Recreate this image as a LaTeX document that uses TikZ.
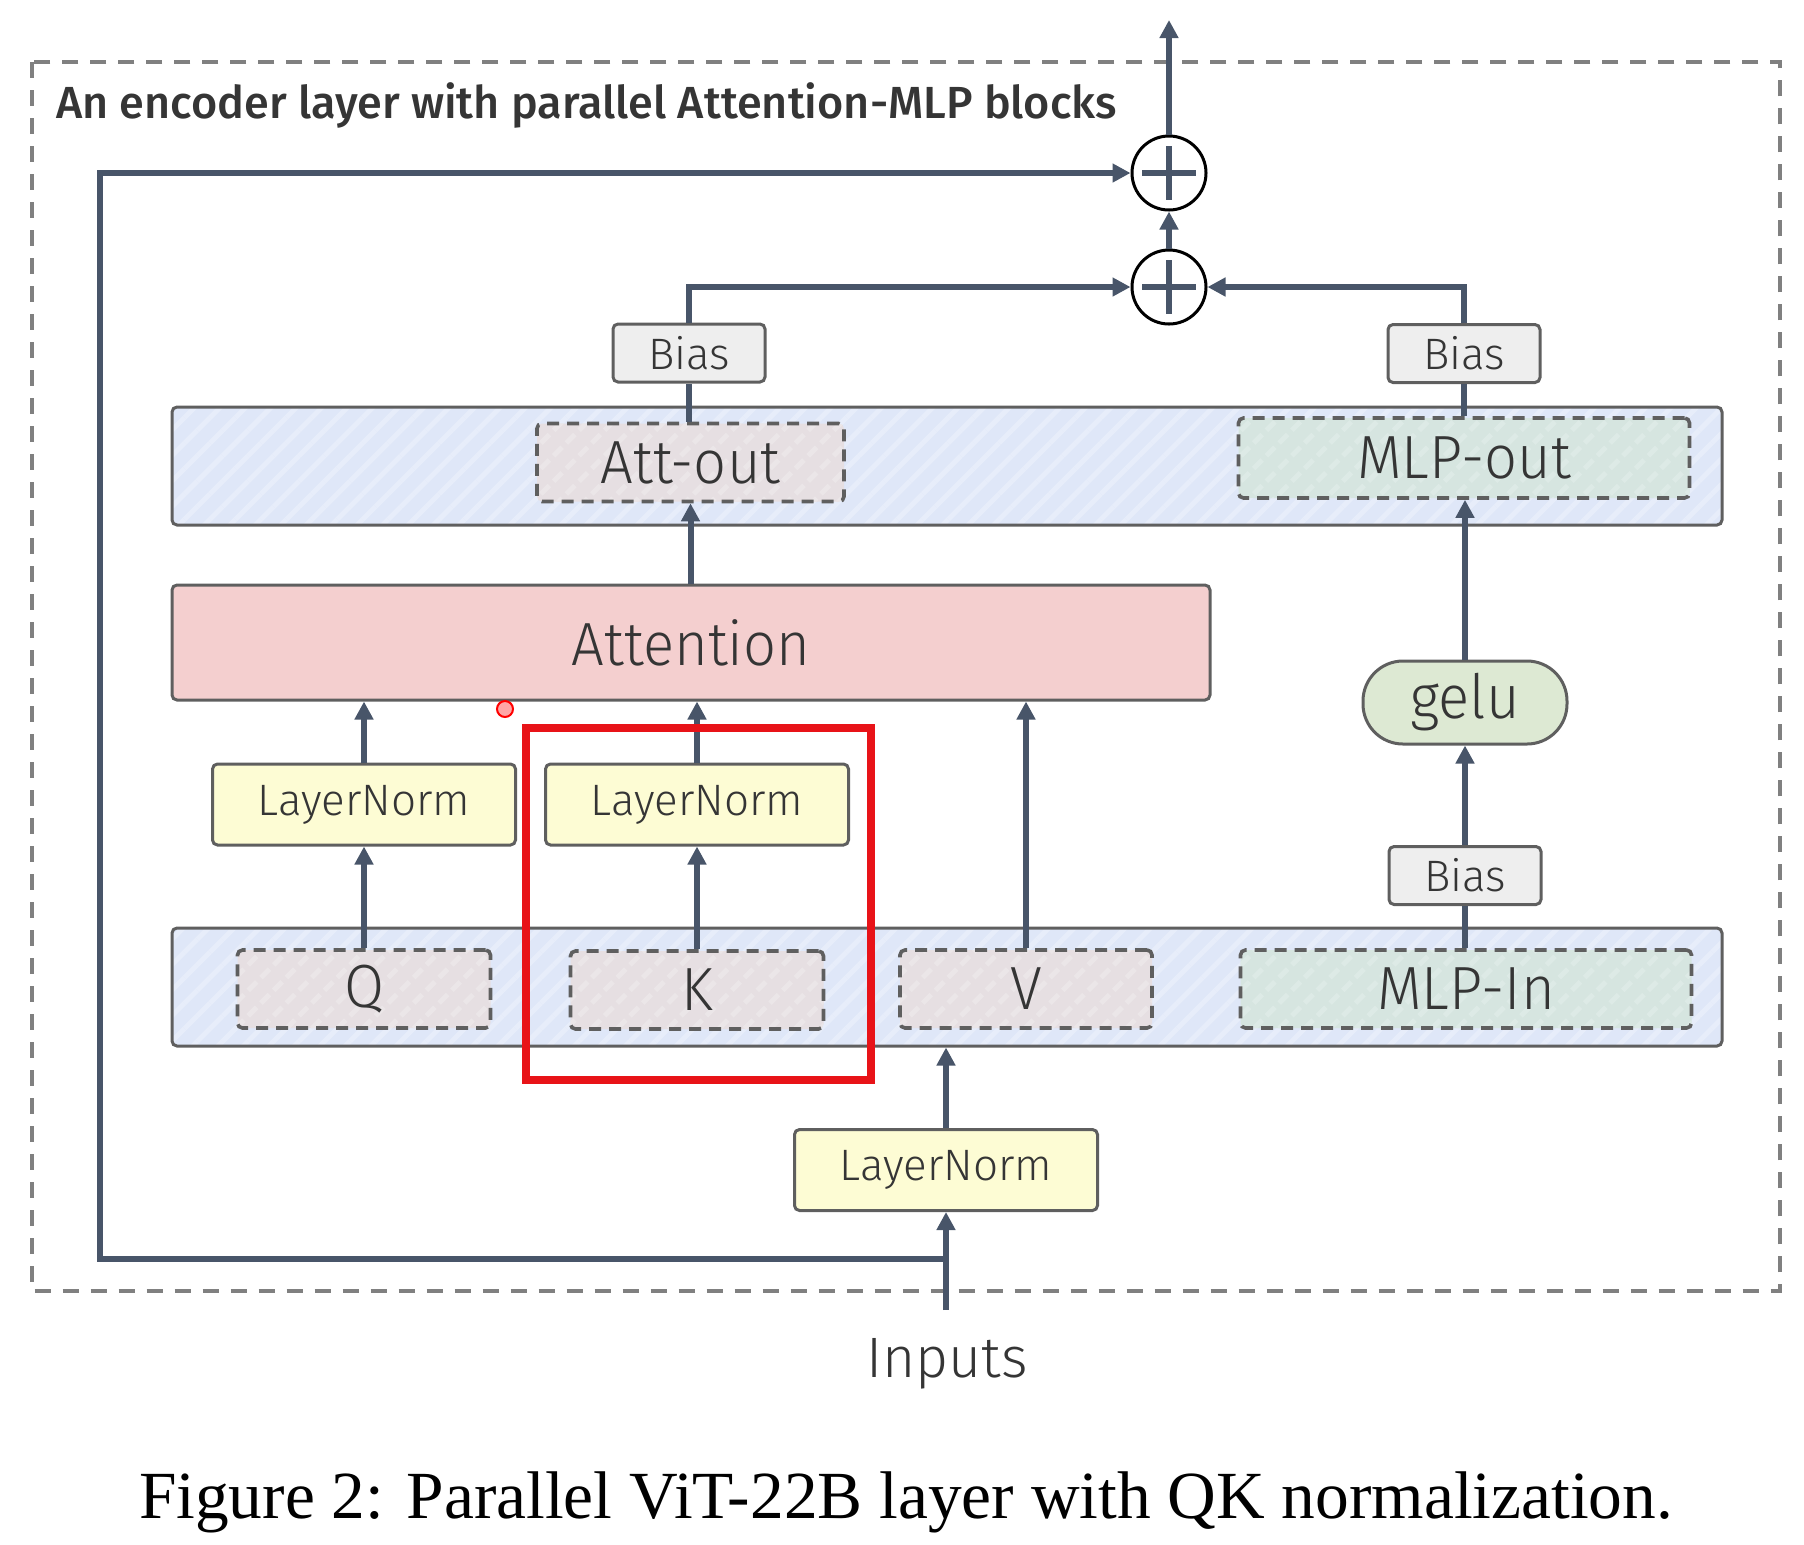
\documentclass[tikz,border=0pt]{standalone}
\usepackage{fontspec}
\setsansfont{Fira Sans}[UprightFont=* Light, BoldFont=* Medium]
\setmainfont{Liberation Serif}
\usetikzlibrary{positioning}
\usetikzlibrary{arrows.meta, patterns.meta}

\definecolor{slate}{HTML}{485569}
\definecolor{boxline}{HTML}{5F5F5F}
\definecolor{txt}{HTML}{353535}
\definecolor{bandblue}{HTML}{DFE7F8}
\definecolor{bandstripe}{HTML}{E7EDFA}
\definecolor{projred}{HTML}{E6DFE2}
\definecolor{projredstripe}{HTML}{EBE6E8}
\definecolor{projgreen}{HTML}{D6E5E0}
\definecolor{projgreenstripe}{HTML}{DDEAE6}
\definecolor{attnred}{HTML}{F4CFCF}
\definecolor{lnyellow}{HTML}{FDFCD4}
\definecolor{biasgray}{HTML}{EEEEEE}
\definecolor{gelugreen}{HTML}{DDE9D3}
\definecolor{framegray}{HTML}{808080}
\definecolor{qkred}{HTML}{E81318}

\begin{document}
\begin{tikzpicture}[x=0.5pt, y=-0.5pt,
    >={Triangle[width=9pt,length=9pt]},
    flow/.style={draw=slate, line width=3pt},
    smalltext/.style={font=\sffamily\fontsize{22}{26}\selectfont},
    bigtext/.style={font=\sffamily\addfontfeatures{FakeStretch=0.95}\fontsize{30.5}{36}\selectfont},
    box/.style={draw=boxline, line width=1.5pt, rounded corners=2.5pt, inner sep=0pt, text=txt},
    hatch/.style 2 args={preaction={fill=#1}, preaction={pattern={Lines[angle=45,distance=9pt,line width=2.5pt]}, pattern color=#2}},
    band/.style={box, hatch={bandblue}{bandstripe}, minimum width=775pt, minimum height=59pt},
    proj/.style={box, line width=1.8pt, dashed, dash pattern=on 6pt off 4pt, minimum height=39pt, bigtext},
    lnorm/.style={box, fill=lnyellow, minimum width=151.5pt, minimum height=40.5pt, smalltext},
    biasbox/.style={box, fill=biasgray, minimum width=76pt, minimum height=29pt, smalltext},
    sumnode/.style={draw=black, circle, line width=1.5pt, fill=white, minimum size=37pt, inner sep=0pt}
  ]
    \useasboundingbox (0,0) rectangle (1804,1544);

    % outer frame and title
    \draw[framegray, line width=2pt, dash pattern=on 8pt off 6pt] (31.6,62) rectangle (1780,1291);
    \node[anchor=base west, text=txt, font=\sffamily\bfseries\fontsize{22.5}{27}\selectfont] (title) at (49,118) {An encoder layer with parallel Attention-MLP blocks};

    % linear layers
    \node[band] (bandtop) at (947,466) {};
    \node[band] (bandbot) at (947,987) {};

    \node[proj, hatch={projred}{projredstripe}, minimum width=153.5pt] (attout) at (690.5,462.5) {Att-out};
    \node[proj, hatch={projgreen}{projgreenstripe}, minimum width=225.5pt, minimum height=40pt] (mlpout) at (1464,458) {MLP-out};

    \node[proj, hatch={projred}{projredstripe}, minimum width=126.5pt] (q) at (364,989) {Q};
    \node[proj, hatch={projred}{projredstripe}, minimum width=126.5pt] (k) at (697,990) {K};
    \node[proj, hatch={projred}{projredstripe}, minimum width=126pt] (v) at (1026,989) {V};
    \node[proj, hatch={projgreen}{projgreenstripe}, minimum width=225.5pt] (mlpin) at (1466,989) {MLP-In};

    % attention and mlp
    \node[box, fill=attnred, minimum width=519pt, minimum height=57.5pt, bigtext] (attn) at (691,642.5) {Attention};
    \node[box, fill=gelugreen, rounded corners=20pt, minimum width=102pt, minimum height=41.5pt, bigtext] (gelu) at (1465,702.5) {gelu};

    \node[lnorm] (lnq) at (364,804.5) {LayerNorm};
    \node[lnorm] (lnk) at (697,804.5) {LayerNorm};
    \node[lnorm] (lnin) at (946,1170) {LayerNorm};

    \node[biasbox] (biasa) at (689,353) {Bias};
    \node[biasbox] (biasb) at (1464,353.5) {Bias};
    \node[biasbox] (biasc) at (1465,875.5) {Bias};

    \node[sumnode] (plustop) at (1169,173) {};
    \node[sumnode] (plusbot) at (1169,287) {};
    \foreach \p in {plustop,plusbot}
        \draw[flow] (\p.center) +(-27,0) -- +(27,0) +(0,-27) -- +(0,27);

    \coordinate (out) at (1169,20);
    \coordinate (in) at (946,1310);
    \coordinate (split) at (946,1259);
    \coordinate (corner) at (100,1259);

    \draw[flow,->] (in) -- (lnin.south);
    \draw[flow,->] (split) -- (corner) |- (plustop.west);
    \draw[flow,->] (lnin.north) -- (lnin.north |- bandbot.south);

    \draw[flow,->] (q.north) -- (lnq.south);
    \draw[flow,->] (k.north) -- (lnk.south);
    \draw[flow,->] (lnq.north) -- (lnq.north |- attn.south);
    \draw[flow,->] (lnk.north) -- (lnk.north |- attn.south);
    \draw[flow,->] (v.north) -- (v.north |- attn.south);

    \draw[flow] (mlpin.north -| biasc) -- (biasc.south);
    \draw[flow,->] (biasc.north) -- (gelu.south);
    \draw[flow,->] (gelu.north) -- (gelu.north |- mlpout.south);

    \draw[flow,->] (attout.south |- attn.north) -- (attout.south);
    \draw[flow] (attout.north -| biasa) -- (biasa.south);
    \draw[flow,->] (biasa.north) |- (plusbot.west);
    \draw[flow] (mlpout.north) -- (biasb.south);
    \draw[flow,->] (biasb.north) |- (plusbot.east);
    \draw[flow,->] (plusbot.north) -- (plustop.south);
    \draw[flow,->] (plustop.north) -- (out);

    % inputs and caption
    \node[anchor=base, text=txt, font=\sffamily\fontsize{28.5}{34}\selectfont] (inputs) at (947,1377) {Inputs};
    \node[anchor=base, font=\rmfamily\fontsize{33.7}{38}\selectfont] (caption) at (906,1518) {Figure 2: Parallel ViT-22B layer with QK normalization.};

    % qk highlight
    \draw[qkred, line width=4pt] (526,728) rectangle (871,1080);
    \draw[red, fill=red!35, line width=1pt] (505,709) circle (8);

\end{tikzpicture}
\end{document}
